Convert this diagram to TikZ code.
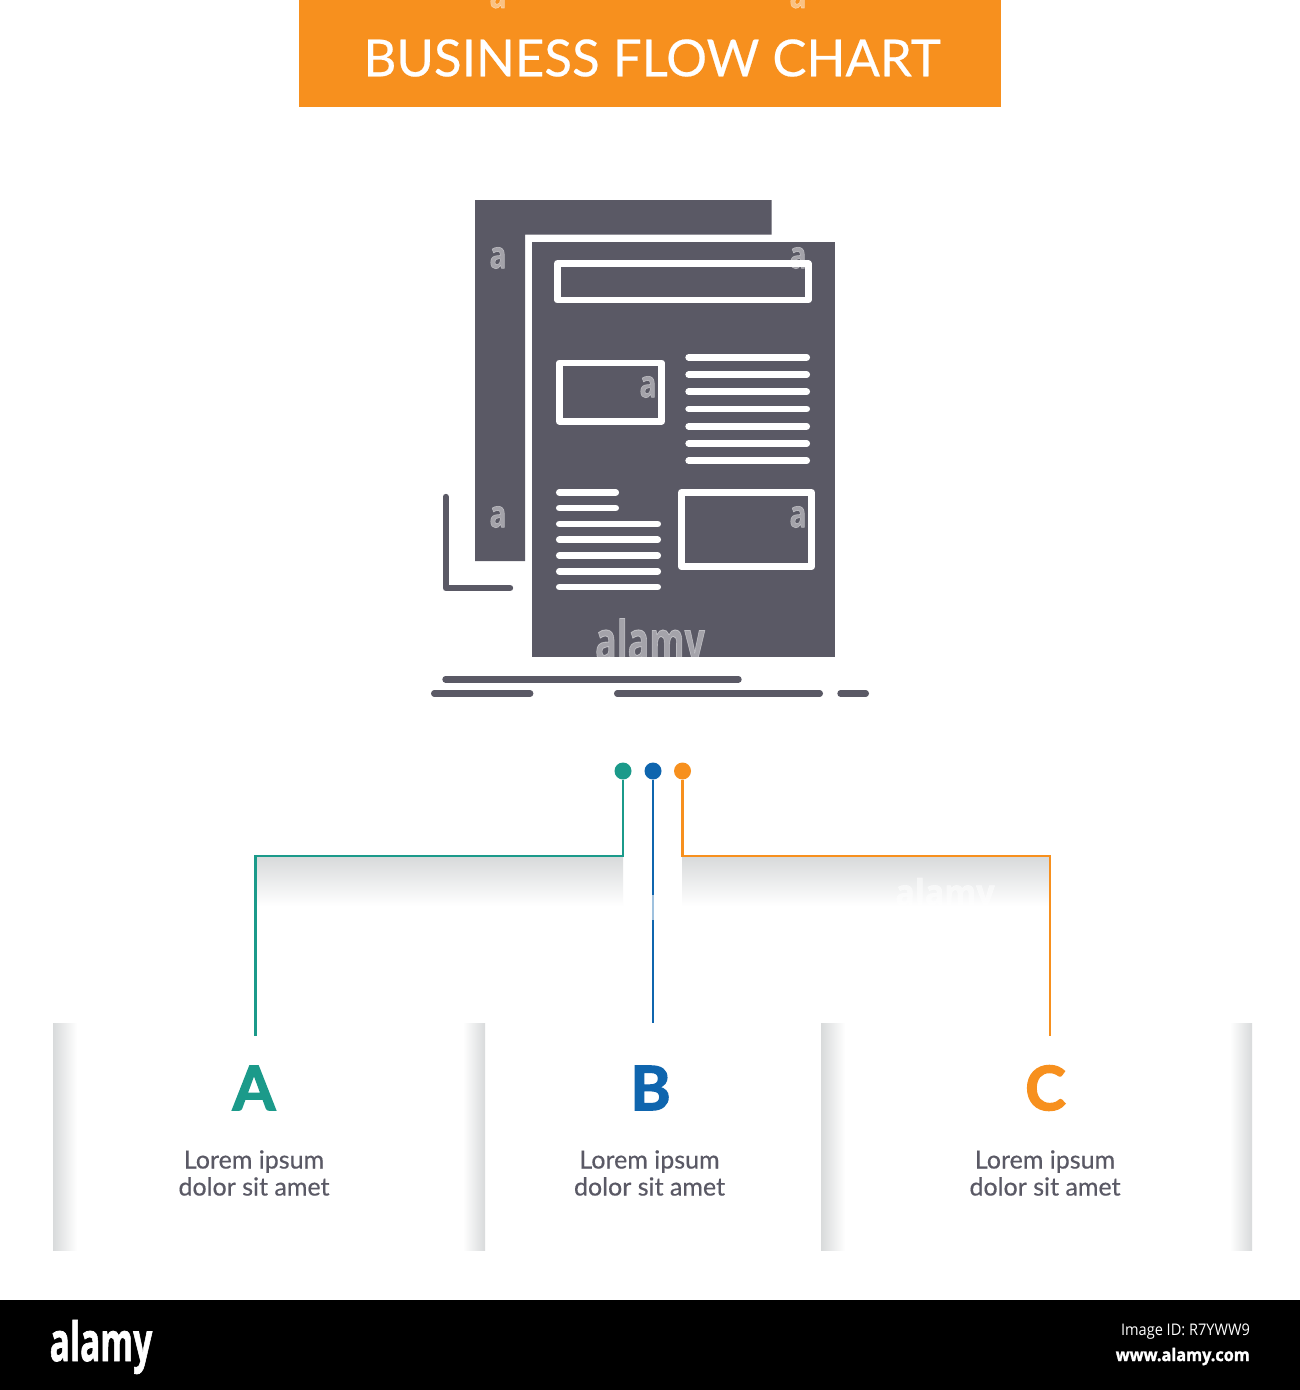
\documentclass[tikz,border=0pt]{standalone}
\usepackage{fontspec}
\setmainfont{Lato}
\newfontfamily\logofont{Open Sans}[BoldFeatures={FakeBold=1.5}]
\newfontfamily\heavyfont{Lato}[BoldFeatures={FakeBold=2.5}]
\newfontfamily\titlefont{Lato}[UprightFeatures={FakeBold=0.4}]
\definecolor{barorange}{HTML}{F7901E}
\definecolor{slate}{HTML}{5A5965}
\definecolor{tealA}{HTML}{1B9A8A}
\definecolor{blueB}{HTML}{0F65AE}
\definecolor{orangeC}{HTML}{F7901E}
\definecolor{fade}{HTML}{D8DADB}
\begin{document}
\begin{tikzpicture}[
    x=1pt,y=-1pt,
    rule/.style={white,line width=6.7pt,line cap=round},
    frame/.style={white,line width=6.7pt,line join=round},
    ground/.style={slate,line width=6.4pt,line cap=round,line join=round},
    conn/.style={line width=2.2pt},
    dot/.style={circle,minimum size=17pt,inner sep=0pt},
    letter/.style={font=\heavyfont\bfseries\fontsize{61}{61}\selectfont,inner sep=0pt},
    caption/.style={text=slate,align=center,font=\titlefont\fontsize{25}{27}\selectfont,inner sep=0pt},
    wmark/.style={white,opacity=0.45,font=\logofont\bfseries\fontsize{38}{38}\selectfont,xscale=0.74,inner sep=0pt}
    ]
    \useasboundingbox (0,0) rectangle (1300,1390);
    \fill[white] (0,0) rectangle (1300,1390);

    \fill[barorange] (299,0) rectangle (1001,106.5);
    \node[white,inner sep=0pt,font=\titlefont\fontsize{51}{51}\selectfont] (title) at (652,58) {BUSINESS FLOW CHART};
    \begin{scope}
      \clip (299,0) rectangle (1001,106.5);
      \node[wmark,anchor=base] (markH) at (498,8) {a};
      \node[wmark,anchor=base] (markI) at (798,8) {a};
    \end{scope}

    \fill[slate] (475,200) -- (771.7,200) -- (771.7,234.5) -- (525,234.5) -- (525,561) -- (475,561) -- cycle;
    \fill[slate] (531.5,241.5) rectangle (835,657);
    \draw[frame] (557.3,263.5) rectangle (808.3,300);
    \draw[frame] (559.3,363) rectangle (661.7,421.3);
    \draw[frame] (681.3,492.5) rectangle (811.7,566.8);
    \draw[rule] (688.7,357.3) -- (806.7,357.3);
    \draw[rule] (688.7,374.6) -- (806.7,374.6);
    \draw[rule] (688.7,391.8) -- (806.7,391.8);
    \draw[rule] (688.7,409) -- (806.7,409);
    \draw[rule] (688.7,426.3) -- (806.7,426.3);
    \draw[rule] (688.7,443.5) -- (806.7,443.5);
    \draw[rule] (688.7,460.7) -- (806.7,460.7);
    \draw[rule] (559.3,492.5) -- (615.7,492.5);
    \draw[rule] (559.3,508) -- (615.7,508);
    \draw[rule] (559.3,523.9) -- (657.7,523.9);
    \draw[rule] (559.3,539.8) -- (657.7,539.8);
    \draw[rule] (559.3,555.6) -- (657.7,555.6);
    \draw[rule] (559.3,571.5) -- (657.7,571.5);
    \draw[rule] (559.3,587) -- (657.7,587);
    \draw[ground] (445.7,497) -- (445.7,588) -- (510,588);
    \draw[ground] (445.5,679.3) -- (738.5,679.3);
    \draw[ground] (434.2,693.5) -- (530.2,693.5);
    \draw[ground] (617.2,693.5) -- (819.8,693.5);
    \draw[ground] (840.5,693.5) -- (865.8,693.5);

    \node[wmark] (markA) at (498,258) {a};
    \node[wmark] (markB) at (498,517) {a};
    \node[wmark] (markC) at (798,258) {a};
    \node[wmark] (markD) at (648,387) {a};
    \node[wmark] (markE) at (798,517) {a};
    \begin{scope}
      \clip (531.5,600) rectangle (835,657);
      \node[white,opacity=0.45,font=\logofont\bfseries\fontsize{56}{56}\selectfont,xscale=0.64,inner sep=0pt,anchor=base] (markF) at (650,661) {alamy};
    \end{scope}

    \shade[top color=fade,bottom color=white] (257,857) rectangle (623,906);
    \shade[top color=fade,bottom color=white] (682,857) rectangle (1049,906);
    \node[white,opacity=0.5,font=\logofont\bfseries\fontsize{36}{36}\selectfont,xscale=0.9,inner sep=0pt] (markG) at (945,896) {alamy};

    \shade[left color=fade,right color=white] (53,1023) rectangle (77,1250);
    \shade[left color=white,right color=fade] (463,1023) rectangle (485,1250);
    \shade[left color=fade,right color=white] (821,1023) rectangle (845,1250);
    \shade[left color=white,right color=fade] (1230,1023) rectangle (1252,1250);

    \node[dot,fill=tealA] (dotA) at (623,771) {};
    \node[dot,fill=blueB] (dotB) at (653,771) {};
    \node[dot,fill=orangeC] (dotC) at (682.5,771) {};
    \coordinate (kneeA) at (623,856);
    \coordinate (turnA) at (255.5,856);
    \coordinate (endA) at (255.5,1036);
    \coordinate (endB) at (653,1023);
    \coordinate (kneeC) at (682.5,856);
    \coordinate (turnC) at (1050,856);
    \coordinate (endC) at (1050,1036);
    \draw[conn,tealA] (dotA) -- (kneeA) -- (turnA) -- (endA);
    \draw[conn,blueB] (dotB) -- (endB);
    \draw[conn,orangeC] (dotC) -- (kneeC) -- (turnC) -- (endC);
    \fill[white,opacity=0.6] (651,895) rectangle (655,920);

    \node[letter,text=tealA] (letterA) at (254,1088) {A};
    \node[letter,text=blueB] (letterB) at (650.5,1088) {B};
    \node[letter,text=orangeC] (letterC) at (1045.5,1088) {C};
    \node[caption] (textA) at (254,1173) {Lorem ipsum\\dolor sit amet};
    \node[caption] (textB) at (649.5,1173) {Lorem ipsum\\dolor sit amet};
    \node[caption] (textC) at (1045,1173) {Lorem ipsum\\dolor sit amet};

    \fill[black] (0,1300) rectangle (1300,1390);
    \node[white,inner sep=0pt,anchor=base,xscale=0.62,font=\logofont\bfseries\fontsize{54}{54}\selectfont] (logo) at (101,1361) {alamy};
    \node[white,inner sep=0pt,anchor=east,xscale=0.91,font=\logofont\fontsize{16}{16}\selectfont] (imageid) at (1250,1332) {Image ID: R7YWW9};
    \node[white,inner sep=0pt,anchor=east,xscale=0.93,font=\logofont\bfseries\fontsize{17.5}{17.5}\selectfont] (site) at (1250,1356.5) {www.alamy.com};
  \end{tikzpicture}
\end{document}
